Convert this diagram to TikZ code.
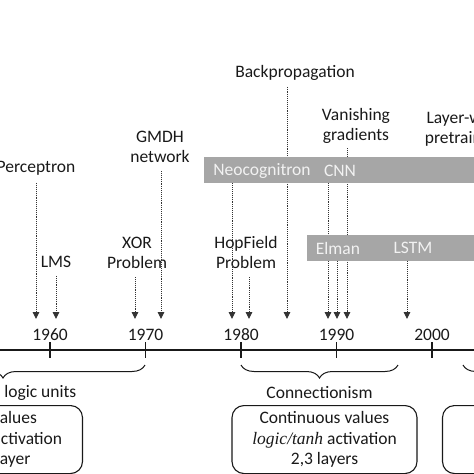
\documentclass[tikz,border=0pt]{standalone}
\usepackage{fontspec}
\setmainfont{Carlito}
\newfontfamily\itfont{Liberation Serif}
\usetikzlibrary{arrows.meta,positioning,decorations.pathreplacing,calc}

\begin{document}
\begin{tikzpicture}[x=1pt, y=-1pt,
  lbl/.style={font=\fontsize{17.5}{20.5}\selectfont, align=center, inner sep=0pt, text=black!90},
  evt/.style={densely dotted, line width=0.9pt, black!80, -{Triangle[length=7pt,width=6.5pt]}},
  bar/.style={fill=black!35, draw=none, inner sep=0pt, minimum height=26pt, anchor=north west},
  bartext/.style={lbl, text=black!5},
  era/.style={lbl, draw=black!90, rounded corners=12pt, line width=1.1pt, minimum width=185pt, minimum height=68pt, anchor=north},
  eraspan/.style={decorate, decoration={brace, mirror, amplitude=13pt}, line width=1pt, black!90}]

\useasboundingbox (0, 0) rectangle (474, 474);
\clip (0, 0) rectangle (474, 474);

\draw[line width=1.6pt, black!90] (-10, 350) -- (484, 350);
\foreach \yr [count=\i from 0] in {1960,1970,1980,1990,2000} {
  \coordinate (t\yr) at ({50 + 95.5*\i}, 350);
  \draw[line width=1.6pt, black!90] ($(t\yr)+(0,-8)$) -- ($(t\yr)+(0,8)$);
  \node[lbl] (y\yr) at ($(t\yr)+(0,-15)$) {\yr};
}

\coordinate (e-perc) at (36, 319);
\coordinate (e-lms) at (56, 319);
\coordinate (e-xor) at (135, 319);
\coordinate (e-gmdh) at (161, 319);
\coordinate (e-neo) at (232, 319);
\coordinate (e-hop) at (249, 319);
\coordinate (e-bp) at (287, 319);
\coordinate (e-cnn) at (328, 319);
\coordinate (e-elman) at (337, 319);
\coordinate (e-vg) at (347, 319);
\coordinate (e-lstm) at (407, 319);

\node[lbl] (perc) at (36, 168) {Perceptron};
\node[lbl] (lms) at (56, 262) {LMS};
\node[lbl] (xor) at (137, 253) {XOR\\Problem};
\node[lbl] (gmdh) at (160, 147) {GMDH\\network};
\node[lbl] (hop) at (246, 252.5) {HopField\\Problem};
\node[lbl] (bp) at (295, 73) {Backpropagation};
\node[lbl] (vg) at (356, 126) {Vanishing\\gradients};
\node[lbl] (lw) at (464, 129) {Layer-wise\\pretraining};

\draw[evt, shorten <=8pt] (perc.south -| e-perc) -- (e-perc);
\draw[evt, shorten <=8pt] (lms.south -| e-lms) -- (e-lms);
\draw[evt, shorten <=8pt] (xor.south -| e-xor) -- (e-xor);
\draw[evt, shorten <=8pt] (gmdh.south -| e-gmdh) -- (e-gmdh);
\draw[evt, shorten <=8pt] (hop.south -| e-hop) -- (e-hop);
\draw[evt, shorten <=6pt] (bp.south -| e-bp) -- (e-bp);
\draw[evt, shorten <=4pt] (vg.south -| e-vg) -- (e-vg);

\node[bar, minimum width=280pt] (bar1) at (204, 157) {};
\node[bartext] (neo) at (262, 171) {Neocognitron};
\node[bartext] (cnn) at (340, 171) {CNN};
\draw[evt] (bar1.south -| e-neo) -- (e-neo);
\draw[evt] (bar1.south -| e-cnn) -- (e-cnn);

\node[bar, minimum width=180pt] (bar2) at (307, 235) {};
\node[bartext] (elman) at (338, 248) {Elman};
\node[bartext] (lstm) at (413, 248) {LSTM};
\draw[evt] (bar2.south -| e-elman) -- (e-elman);
\draw[evt] (bar2.south -| e-lstm) -- (e-lstm);

\coordinate (s1a) at (-139, 365);
\coordinate (s1b) at (145, 365);
\coordinate (s2a) at (241, 365);
\coordinate (s2b) at (398, 365);
\coordinate (s3a) at (463, 365);
\coordinate (s3b) at (640, 365);
\draw[eraspan] (s1a) -- (s1b);
\draw[eraspan] (s2a) -- (s2b);
\draw[eraspan] (s3a) -- (s3b);

\node[lbl] (tlu) at (3, 393) {Threshold logic units};
\node[lbl] (conn) at (319.5, 393) {Connectionism};

\node[era] (box1) at (-10, 405) {Binary values\\Threshold activation\\Single layer};
\node[era] (box2) at (324.5, 405) {Continuous values\\{\itfont\itshape logic/tanh} activation\\2,3 layers};
\node[era] (box3) at (535, 405) {};

\end{tikzpicture}
\end{document}
